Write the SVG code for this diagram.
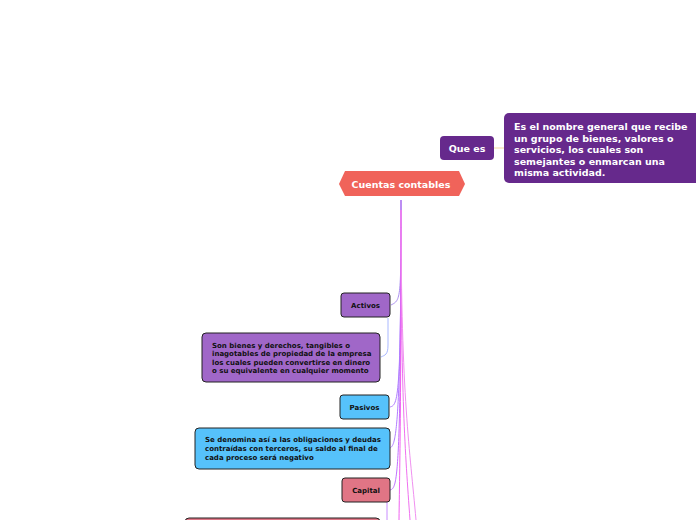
<svg xmlns="http://www.w3.org/2000/svg" width="696" height="520" viewBox="0 0 696 520">
<style>
text{font-family:"DejaVu Sans",Verdana,sans-serif;font-weight:bold}
.s{font-size:7px;fill:#111}
.w{font-size:9.5px;fill:#fff}
.b{stroke:#222;stroke-width:1}
.c{fill:none;stroke-width:1}
</style>
<rect width="696" height="520" fill="#fff"/>
<g id="connectors">
<path class="c" d="M401 200 V300" stroke="#a020f0" stroke-width="2"/>
<path class="c" d="M401 200 C401 300 401 300 391 305" stroke="#a98cf0"/>
<path class="c" d="M388 318 V345 C388 355 385 355 381 357" stroke="#a9b8ff"/>
<path class="c" d="M401 210 C401 400 398 405 390 407" stroke="#b07cff"/>
<path class="c" d="M401 210 C401 440 395 445 390 448" stroke="#b07cff"/>
<path class="c" d="M401 210 C401 485 397 488 390 490" stroke="#c070ff"/>
<path class="c" d="M387 490 V520" stroke="#c88cff"/>
<path class="c" d="M401 210 C401 400 400 450 399 520" stroke="#f060f0"/>
<path class="c" d="M401 210 C401 400 405 450 410 520" stroke="#f070f0"/>
<path class="c" d="M401 210 C401 400 410 450 416 520" stroke="#f090f0"/>
<path class="c" d="M494 148 H504" stroke="#f5d9a0"/>
</g>
<g id="root">
<polygon points="345,171 459,171 465,184 459,196 345,196 339,184" fill="#f0635a"/>
<text class="w" x="401" y="187.5" text-anchor="middle">Cuentas contables</text>
</g>
<g id="quees">
<rect x="440" y="136" width="54" height="24" rx="4" fill="#66298c"/>
<text class="w" x="467" y="151.5" text-anchor="middle">Que es</text>
</g>
<g id="def">
<rect x="504" y="113" width="196" height="70" rx="5" fill="#66298c"/>
<text class="w" x="514" y="130">Es el nombre general que recibe</text>
<text class="w" x="514" y="141.5">un grupo de bienes, valores o</text>
<text class="w" x="514" y="153">servicios, los cuales son</text>
<text class="w" x="514" y="164.5">semejantes o enmarcan una</text>
<text class="w" x="514" y="176">misma actividad.</text>
</g>
<g id="activos">
<rect class="b" x="341" y="293" width="49" height="24" rx="3" fill="#a067c8"/>
<text class="s" x="365.5" y="307.5" text-anchor="middle">Activos</text>
</g>
<g id="activos-desc">
<rect class="b" x="202" y="333" width="178" height="49" rx="4" fill="#a067c8"/>
<text class="s" x="212" y="348">Son bienes y derechos, tangibles o</text>
<text class="s" x="212" y="356">inagotables de propiedad de la empresa</text>
<text class="s" x="212" y="365">los cuales pueden convertirse en dinero</text>
<text class="s" x="212" y="373">o su equivalente en cualquier momento</text>
</g>
<g id="pasivos">
<rect class="b" x="340" y="395" width="49" height="24" rx="3" fill="#56c2fb"/>
<text class="s" x="364.5" y="409.5" text-anchor="middle">Pasivos</text>
</g>
<g id="pasivos-desc">
<rect class="b" x="195" y="428" width="195" height="41" rx="4" fill="#56c2fb"/>
<text class="s" x="205" y="442">Se denomina así a las obligaciones y deudas</text>
<text class="s" x="205" y="451">contraídas con terceros, su saldo al final de</text>
<text class="s" x="205" y="460">cada proceso será negativo</text>
</g>
<g id="capital">
<rect class="b" x="342" y="478" width="48" height="24" rx="3" fill="#e07585"/>
<text class="s" x="366" y="492.5" text-anchor="middle">Capital</text>
</g>
<g id="capital-desc">
<rect class="b" x="185" y="518" width="195" height="20" rx="4" fill="#e07585"/>
</g>
</svg>
